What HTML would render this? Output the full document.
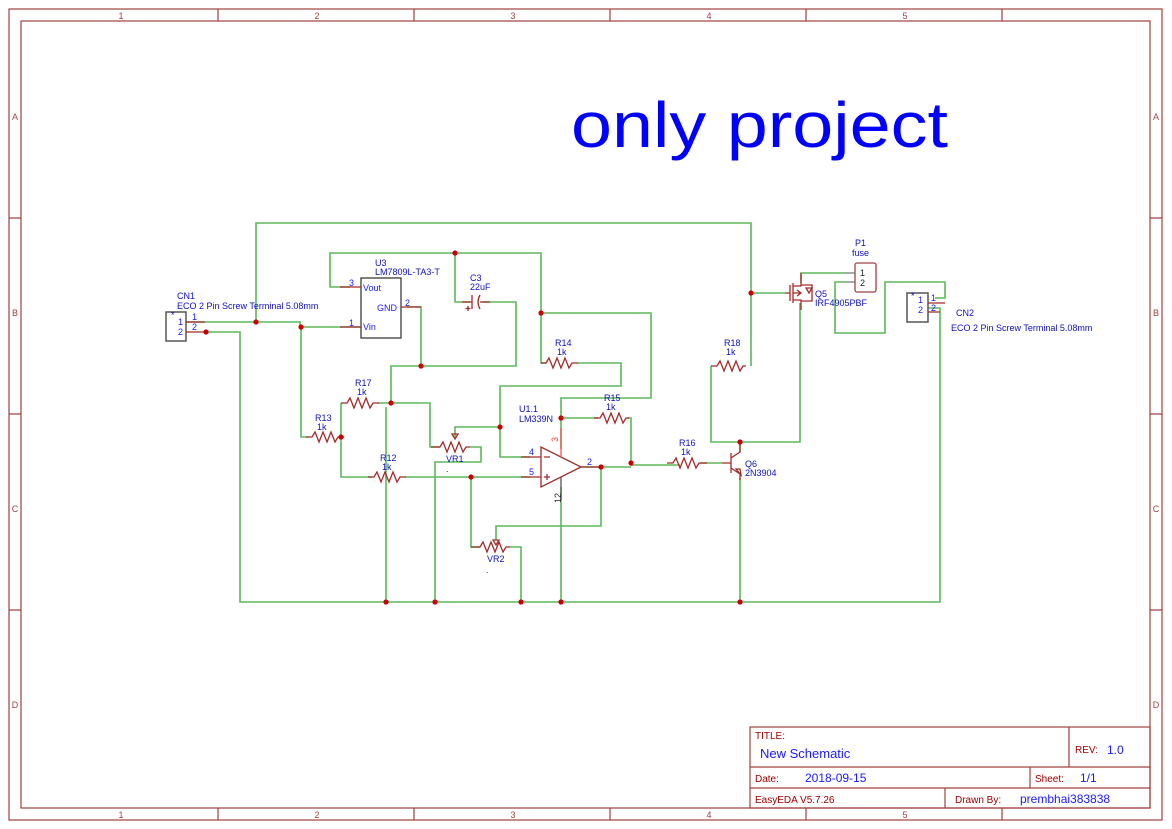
<!DOCTYPE html>
<html><head><meta charset="utf-8"><style>
body{margin:0;background:#fff}
svg{display:block}
text{font-family:"Liberation Sans",sans-serif}
.w{stroke:#5cb85c;stroke-width:1.6;fill:none}
.r{stroke:#a52a2a;stroke-width:1.3;fill:none}
.f{stroke:#a04040;stroke-width:1.2;fill:none}
.b{fill:#1010c0;font-size:9px}
.p{fill:#1a1aff;font-size:9px}
</style></head><body>
<svg width="1172" height="829" viewBox="0 0 1172 829" xmlns="http://www.w3.org/2000/svg">
<rect x="9" y="9" width="1153" height="811" class="f"/>
<rect x="21" y="21" width="1129" height="787" class="f"/>
<g class="f">
<path d="M218 9V21M414 9V21M610 9V21M806 9V21M1002 9V21M218 808V820M414 808V820M610 808V820M806 808V820M1002 808V820M9 218H21M9 414H21M9 610H21M1150 218H1162M1150 414H1162M1150 610H1162"/>
</g>
<g fill="#a04040" font-size="9" text-anchor="middle">
<text x="121" y="19">1</text><text x="317" y="19">2</text><text x="513" y="19">3</text><text x="709" y="19">4</text><text x="905" y="19">5</text>
<text x="121" y="818">1</text><text x="317" y="818">2</text><text x="513" y="818">3</text><text x="709" y="818">4</text><text x="905" y="818">5</text>
<text x="15" y="120">A</text><text x="15" y="316">B</text><text x="15" y="512">C</text><text x="15" y="708">D</text>
<text x="1156" y="120">A</text><text x="1156" y="316">B</text><text x="1156" y="512">C</text><text x="1156" y="708">D</text>
</g>
<text x="571" y="147" fill="#0000ff" font-size="64" textLength="377" lengthAdjust="spacingAndGlyphs">only project</text>

<g class="w">
<path d="M256 322V223H751V366"/>
<path d="M186 322H300V327H360"/>
<path d="M301 327V437H308"/>
<path d="M206 332H240V602H940V308H928"/>
<path d="M350 287H330V253H541V363H546"/>
<path d="M455 253V302H470"/>
<path d="M482 302H516V366H391V403"/>
<path d="M407 307H421V366"/>
<path d="M541 313H651V398H561V449"/>
<path d="M578 363H621V386H500V457H530"/>
<path d="M378 403H430V447H440"/>
<path d="M386 407V602"/>
<path d="M341 403V477H372"/>
<path d="M405 477H530"/>
<path d="M470 447H481V462H435V602"/>
<path d="M455 437V427H500"/>
<path d="M561 418H598"/>
<path d="M628 418H631V465H680"/>
<path d="M581 467H631"/>
<path d="M601 467V526H496V540"/>
<path d="M471 477V547H480"/>
<path d="M510 547H521V602"/>
<path d="M561 487V602"/>
<path d="M700 463H722"/>
<path d="M740 478V602"/>
<path d="M740 442V452"/>
<path d="M711 366V442H800V303"/>
<path d="M751 293H785"/>
<path d="M801 283V273H845"/>
<path d="M845 282H835V333H885V282H945V298H935"/>
</g>

<rect x="166" y="312" width="20" height="29" fill="none" stroke="#555" stroke-width="1.5"/>
<path d="M186 322H205M186 332H205" class="r"/>
<text x="171" y="318" class="b" font-size="7">*</text>
<text x="178" y="325" class="p">1</text><text x="178" y="335" class="p">2</text>
<text x="192" y="320" class="p">1</text><text x="192" y="330" class="p">2</text>
<text x="177" y="299" class="b">CN1</text>
<text x="177" y="309" class="b">ECO 2 Pin Screw Terminal 5.08mm</text>

<rect x="361" y="278" width="40" height="60" fill="none" stroke="#555" stroke-width="1.5"/>
<path d="M340 287H361M340 327H361M401 307H421" class="r"/>
<text x="375" y="266" class="b">U3</text><text x="375" y="275" class="b">LM7809L-TA3-T</text>
<text x="349" y="286" class="p">3</text><text x="363" y="291" class="p">Vout</text>
<text x="349" y="326" class="p">1</text><text x="363" y="330" class="p">Vin</text>
<text x="405" y="306" class="p">2</text><text x="377" y="311" class="p">GND</text>

<path d="M462 302H472M472 295V309M480 295Q476 302 480 309M480 302H490M468 306v5M465.5 308.5h5" class="r"/>
<text x="470" y="281" class="b">C3</text><text x="470" y="290" class="b">22uF</text>

<g class="r">
<path d="M541 363h5l3 -5l4 10l4 -10l4 10l4 -10l4 10l3 -5h6"/>
<path d="M341 403h6l3 -5l4 10l4 -10l4 10l4 -10l4 10l3 -5h6"/>
<path d="M306 437h6l3 -5l4 10l4 -10l4 10l4 -10l4 10l3 -5h6"/>
<path d="M368 477h6l3 -5l4 10l4 -10l4 10l4 -10l4 10l3 -5h6"/>
<path d="M594 418h6l3 -5l4 10l4 -10l4 10l4 -10l4 10l3 -5h3"/>
<path d="M711 366h6l3 -5l4 10l4 -10l4 10l4 -10l4 10l3 -5h3"/>
<path d="M667 463h6l3 -5l4 10l4 -10l4 10l4 -10l4 10l3 -5h8"/>
<path d="M431 447h9l3 -5l4 10l4 -10l4 10l4 -10l4 10l3 -5h4"/>
<path d="M452 434l3 5l3 -5z"/>
<path d="M471 547h9l3 -5l4 10l4 -10l4 10l4 -10l4 10l3 -5h4"/>
<path d="M493 540l3 5l3 -5z"/>
</g>
<g class="b">
<text x="555" y="346">R14</text><text x="557" y="355">1k</text>
<text x="355" y="386">R17</text><text x="357" y="395">1k</text>
<text x="315" y="421">R13</text><text x="317" y="430">1k</text>
<text x="380" y="461">R12</text><text x="382" y="470">1k</text>
<text x="604" y="401">R15</text><text x="606" y="410">1k</text>
<text x="724" y="346">R18</text><text x="726" y="355">1k</text>
<text x="679" y="446">R16</text><text x="681" y="455">1k</text>
<text x="446" y="462">VR1</text><text x="446" y="472">.</text>
<text x="487" y="562">VR2</text><text x="486" y="573">.</text>
</g>

<path d="M541 447V487L581 467Z" class="r"/>
<path d="M521 457H541M521 477H541M581 467H601" class="r"/>
<path d="M561 428V457" stroke="#ff5050" stroke-width="1.3"/>
<path d="M561 477V500" stroke="#555" stroke-width="1.3"/>
<path d="M544 457h6M544 477h6M547 474v6" class="r"/>
<text x="519" y="412" class="b">U1.1</text><text x="519" y="422" class="b">LM339N</text>
<text x="529" y="455" class="p">4</text><text x="529" y="475" class="p">5</text>
<text x="587" y="465" class="p">2</text>
<text x="0" y="0" fill="#ff4040" font-size="9" transform="translate(558,442) rotate(-90)">3</text>
<text x="0" y="0" fill="#222" font-size="9" transform="translate(561,503) rotate(-90)">12</text>

<g class="r">
<path d="M722 463H731M731 453V473M731 458L740 452V442M731 468L740 474V480"/>
<path d="M736 469l5 6l-1 -6z"/>
</g>
<text x="745" y="467" class="b">Q6</text><text x="745" y="476" class="b">2N3904</text>

<g class="r">
<path d="M785 293H790M790 285V301M793 283V303M793 286H801V273M793 300H801V310M793 293H800M797 290l4 3l-4 3M801 285H812V301H801M809 293l3 -5h-6z"/>
</g>
<text x="815" y="297" class="b">Q5</text><text x="815" y="306" class="b">IRF4905PBF</text>

<rect x="855" y="263" width="21" height="29" rx="2" fill="none" stroke="#a04040" stroke-width="1.3"/>
<path d="M845 273H855M845 282H855" stroke="#777" stroke-width="1.3"/>
<text x="860" y="276" fill="#222" font-size="9">1</text><text x="860" y="286" fill="#222" font-size="9">2</text>
<text x="855" y="246" class="b">P1</text><text x="852" y="256" class="b">fuse</text>

<rect x="907" y="293" width="21" height="29" fill="none" stroke="#555" stroke-width="1.5"/>
<path d="M928 303H945M928 312H940" class="r"/>
<text x="911" y="299" class="b" font-size="7">*</text>
<text x="918" y="303" class="p">1</text><text x="918" y="313" class="p">2</text>
<text x="931" y="301" class="p">1</text><text x="931" y="311" class="p">2</text>
<text x="956" y="316" class="b">CN2</text>
<text x="951" y="331" class="b">ECO 2 Pin Screw Terminal 5.08mm</text>

<g fill="#cc0000">
<circle cx="256" cy="322" r="2.6"/><circle cx="206" cy="332" r="2.6"/><circle cx="301" cy="327" r="2.6"/>
<circle cx="455" cy="253" r="2.6"/><circle cx="541" cy="313" r="2.6"/><circle cx="421" cy="366" r="2.6"/>
<circle cx="391" cy="403" r="2.6"/><circle cx="341" cy="437" r="2.6"/><circle cx="500" cy="427" r="2.6"/>
<circle cx="561" cy="418" r="2.6"/><circle cx="601" cy="467" r="2.6"/><circle cx="631" cy="463" r="2.6"/>
<circle cx="471" cy="477" r="2.6"/><circle cx="740" cy="442" r="2.6"/><circle cx="751" cy="293" r="2.6"/>
<circle cx="386" cy="602" r="2.6"/><circle cx="435" cy="602" r="2.6"/><circle cx="521" cy="602" r="2.6"/>
<circle cx="561" cy="602" r="2.6"/><circle cx="740" cy="602" r="2.6"/>
</g>

<g class="f" stroke-width="1.5">
<rect x="750" y="727" width="400" height="81"/>
<path d="M750 767H1150M750 788H1150M1069 727V767M1030 767V788M945 788V808"/>
</g>
<g font-family="DejaVu Sans,sans-serif">
<text x="755" y="739" fill="#a00000" font-size="10">TITLE:</text>
<text x="760" y="758" fill="#1a1aff" font-size="13">New Schematic</text>
<text x="1075" y="753" fill="#a00000" font-size="10">REV:</text>
<text x="1107" y="754" fill="#1a1aff" font-size="12">1.0</text>
<text x="755" y="782" fill="#a00000" font-size="10">Date:</text>
<text x="805" y="782" fill="#1a1aff" font-size="12">2018-09-15</text>
<text x="1035" y="782" fill="#a00000" font-size="10">Sheet:</text>
<text x="1080" y="782" fill="#1a1aff" font-size="12">1/1</text>
<text x="755" y="803" fill="#a00000" font-size="10">EasyEDA V5.7.26</text>
<text x="955" y="803" fill="#a00000" font-size="10">Drawn By:</text>
<text x="1020" y="803" fill="#1a1aff" font-size="12">prembhai383838</text>
</g>
</svg>
</body></html>
